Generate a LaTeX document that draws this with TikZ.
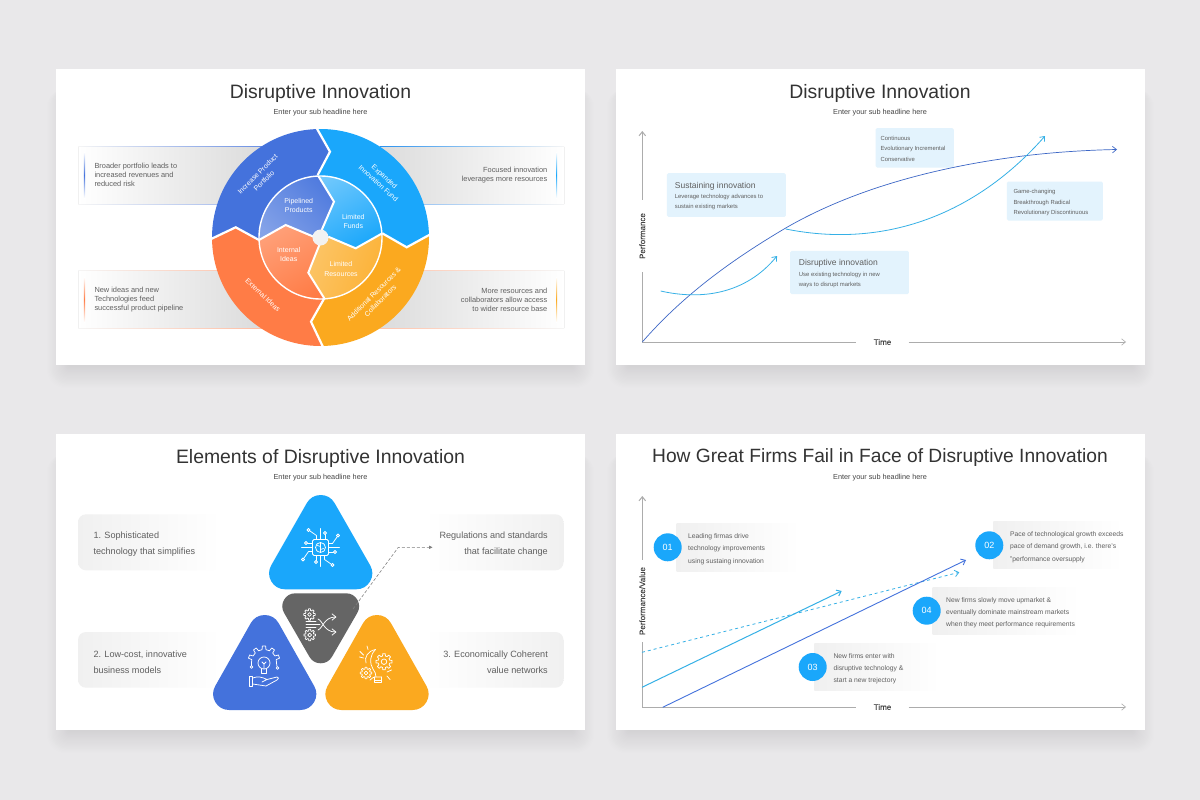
\documentclass[tikz,border=0pt]{standalone}
\usepackage{fontspec}
\setmainfont{Liberation Sans}
\usetikzlibrary{positioning,arrows.meta}

\definecolor{pagebg}{HTML}{E9E8EA}
\definecolor{shadeC}{HTML}{D3D2D4}
\definecolor{royalC}{HTML}{4472DC}
\definecolor{skyC}{HTML}{1AA7FB}
\definecolor{coralC}{HTML}{FF7C46}
\definecolor{amberC}{HTML}{FBA91F}
\definecolor{slateC}{HTML}{656565}
\definecolor{cardC}{HTML}{E3F3FD}
\definecolor{inkC}{HTML}{333333}
\definecolor{labelC}{HTML}{444444}
\definecolor{copyC}{HTML}{5F5F5F}
\definecolor{softC}{HTML}{F0F0F0}
\definecolor{bandC}{HTML}{D8D8D8}
\definecolor{curveC}{HTML}{35B0E6}

\newcommand{\panelbox}[2]{%
    \foreach \s in {20,...,1} {
        \pgfmathsetmacro{\m}{(20-\s)*5}
        \fill[shadeC!\m!pagebg, rounded corners=\s pt] (#1+14-\s*1.2, #2+20) rectangle (#1+515+\s*1.2, #2+296+\s*1.2);
    }
    \fill[white] (#1,#2) rectangle (#1+529,#2+296);
}

\begin{document}
\begin{tikzpicture}[
    x=1pt, y=-1pt,
    >={Straight Barb[length=4pt,width=6.5pt]},
    slidetitle/.style={font=\fontsize{19.4}{22}\selectfont, text=inkC, inner sep=0pt},
    subhead/.style={font=\fontsize{7.3}{8}\selectfont, text=labelC, inner sep=0pt},
    bandtext/.style={font=\fontsize{7.4}{9}\selectfont, text=copyC, inner sep=0pt},
    ringtext/.style={font=\fontsize{7}{9.2}\selectfont, text=white, align=center, inner sep=0pt},
    bluecard/.style={fill=cardC, rounded corners=1.5pt, inner sep=0pt},
    cardcopy/.style={
        align=left,
        inner sep=0pt,
        text=copyC,
        font=\fontsize{5.9}{10.4}\selectfont
    },
    axisline/.style={draw=gray!65, line width=1pt},
    axislabel/.style={font=\fontsize{8}{10}\selectfont\addfontfeature{FakeBold=0.12}, text=labelC, inner ysep=0pt, inner xsep=0pt},
    elemtext/.style={font=\fontsize{9.1}{16}\selectfont, text=copyC, inner sep=0pt},
    trimcard/.style={rounded corners=8pt, left color=softC, right color=white, draw=none},
    softtri/.style={fill=#1, draw=#1, line join=round},
    stepcopy/.style={font=\fontsize{6.75}{12.1}\selectfont, text=copyC, align=left, inner sep=0pt},
    numdot/.style={circle, fill=skyC, text=white, minimum size=28pt, inner sep=0pt, font=\fontsize{9}{10}\selectfont},
    icon/.style={draw=white, line width=0.75pt, line cap=round, line join=round},
    gearicon/.pic={
        \draw[icon] (0,0) circle (2.7);
        \draw[icon] (-14:5.8) \foreach \a in {0,45,...,315} {
            -- (\a-14:5.8) -- (\a-9:8) -- (\a+9:8) -- (\a+14:5.8)
        } -- cycle;
    }
]
    \useasboundingbox (0,0) rectangle (1200,800);
    \fill[pagebg] (0,0) rectangle (1200,800);

    % Slides
    \panelbox{56}{69}
    \panelbox{616}{69}
    \panelbox{56}{434}
    \panelbox{616}{434}

    % Titles of the slides
    \node[slidetitle] (title1) at (320.5,93) {Disruptive Innovation};
    \node[slidetitle] (title2) at (880,93) {Disruptive Innovation};
    \node[slidetitle] (title3) at (320.5,458) {Elements of Disruptive Innovation};
    \node[slidetitle, font=\fontsize{19.2}{22}\selectfont] (title4) at (880,458) {How Great Firms Fail in Face of Disruptive Innovation};
    \node[subhead] (sub1) at (320.5,112.5) {Enter your sub headline here};
    \node[subhead] (sub2) at (880,112.5) {Enter your sub headline here};
    \node[subhead] (sub3) at (320.5,477.5) {Enter your sub headline here};
    \node[subhead] (sub4) at (880,477.5) {Enter your sub headline here};

    % Bands behind the wheel
    \shade[left color=white, right color=bandC] (78,146.5) rectangle (280,204);
    \shade[left color=bandC, right color=white] (360,146.5) rectangle (564,204);
    \shade[left color=white, right color=bandC] (78,270.5) rectangle (280,328);
    \shade[left color=bandC, right color=white] (360,270.5) rectangle (564,328);
    \draw[gray!12, line width=0.6pt] (78,146.5) -- (78,204) (78,270.5) -- (78,328) (564,146.5) -- (564,204) (564,270.5) -- (564,328);
    \shade[left color=gray!8, right color=royalC!80] (78,146) rectangle (262,146.8);
    \shade[left color=gray!8, right color=royalC!55] (78,204) rectangle (262,204.8);
    \shade[left color=skyC!60!royalC, right color=gray!8] (380,146) rectangle (564,146.8);
    \shade[left color=skyC!45!royalC!60, right color=gray!8] (380,204) rectangle (564,204.8);
    \shade[left color=gray!8, right color=coralC!50] (78,270) rectangle (262,270.8);
    \shade[left color=gray!8, right color=coralC!50] (78,328) rectangle (262,328.8);
    \shade[left color=coralC!45, right color=gray!8] (380,270) rectangle (564,270.8);
    \shade[left color=coralC!45, right color=gray!8] (380,328) rectangle (564,328.8);

    % Thin bars at the ends of the bands
    \shade[top color=white, bottom color=white, middle color=royalC] (83.8,152) rectangle (85,198);
    \shade[top color=white, bottom color=white, middle color=skyC] (556,152) rectangle (557.2,198);
    \shade[top color=white, bottom color=white, middle color=coralC] (83.8,277) rectangle (85,322);
    \shade[top color=white, bottom color=white, middle color=amberC] (556,277) rectangle (557.2,322);

    \node[bandtext, align=left, anchor=west] (broader) at (94.3,175) {Broader portfolio leads to\\increased revenues and\\reduced risk};
    \node[bandtext, align=right, anchor=east] (focused) at (547.5,175) {Focused innovation\\leverages more resources};
    \node[bandtext, align=left, anchor=west] (newideas) at (94.3,299.5) {New ideas and new\\Technologies feed\\successful product pipeline};
    \node[bandtext, align=right, anchor=east] (moreres) at (547.5,299.5) {More resources and\\collaborators allow access\\to wider resource base};

    % Points of the wheel
    \coordinate (wc) at (320.5,237.5);
    \coordinate (tx) at (307,111);
    \coordinate (tm) at (330,151.7);
    \coordinate (ti) at (317.7,175);
    \coordinate (rx) at (451,223);
    \coordinate (rm) at (406.7,247.3);
    \coordinate (ri) at (382.3,233.3);
    \coordinate (bx) at (333,368);
    \coordinate (bm) at (311,321.7);
    \coordinate (bi) at (324.3,298.3);
    \coordinate (lx) at (190,249);
    \coordinate (lm) at (235.7,227.3);
    \coordinate (li) at (259,240);

    % Outer ring
    \begin{scope}
        \clip (wc) circle (108.5);
        \fill[royalC] (wc) -- (li) -- (lm) -- (lx) -- (190,100) -- (tx) -- (tm) -- (ti) -- cycle;
        \fill[skyC] (wc) -- (ti) -- (tm) -- (tx) -- (460,100) -- (rx) -- (rm) -- (ri) -- cycle;
        \fill[amberC] (wc) -- (ri) -- (rm) -- (rx) -- (460,380) -- (bx) -- (bm) -- (bi) -- cycle;
        \fill[coralC] (wc) -- (bi) -- (bm) -- (bx) -- (190,380) -- (lx) -- (lm) -- (li) -- cycle;
        \draw[white, line width=2.2pt] (tx) -- (tm) -- (ti);
        \draw[white, line width=2.2pt] (rx) -- (rm) -- (ri);
        \draw[white, line width=2.2pt] (bx) -- (bm) -- (bi);
        \draw[white, line width=2.2pt] (lx) -- (lm) -- (li);
    \end{scope}

    % Inner ring
    \coordinate (tn) at (334,201.7);
    \coordinate (h1) at (321.7,230);
    \coordinate (rn) at (355.7,248.3);
    \coordinate (h2) at (328.3,236.7);
    \coordinate (bn) at (308.3,272.7);
    \coordinate (h3) at (320,243.3);
    \coordinate (ln) at (285.7,225);
    \coordinate (h4) at (315,237.3);
    \begin{scope}
        \clip (wc) circle (61.5);
        \shade[top color=royalC!95, bottom color=royalC!65, shading angle=-45]
            (wc) -- (h4) -- (ln) -- (li) -- (250,245) -- (250,165) -- (ti) -- (tn) -- (h1) -- cycle;
        \shade[top color=skyC!62, bottom color=skyC, shading angle=30]
            (wc) -- (h1) -- (tn) -- (ti) -- (317,165) -- (390,165) -- (390,229) -- (ri) -- (rn) -- (h2) -- cycle;
        \shade[top color=amberC!68, bottom color=amberC!92, shading angle=70]
            (wc) -- (h2) -- (rn) -- (ri) -- (390,229) -- (390,305) -- (326,305) -- (bi) -- (bn) -- (h3) -- cycle;
        \shade[top color=coralC!72, bottom color=coralC, shading angle=30]
            (wc) -- (h3) -- (bn) -- (bi) -- (326,305) -- (250,305) -- (250,245) -- (li) -- (ln) -- (h4) -- cycle;
        \draw[white, line width=2pt] (ti) -- (tn) -- (h1);
        \draw[white, line width=2pt] (ri) -- (rn) -- (h2);
        \draw[white, line width=2pt] (bi) -- (bn) -- (h3);
        \draw[white, line width=2pt] (li) -- (ln) -- (h4);
    \end{scope}
    \draw[white, line width=1.4pt] (wc) circle (61.5);
    \fill[gray!10] (wc) circle (8);

    % Wheel labels
    \node[ringtext, rotate=45] (increase) at (260.7,177.5) {Increase Product\\Portfolio};
    \node[ringtext, rotate=-42] (expanded) at (381.5,180) {Expanded\\Innovation Fund};
    \node[ringtext, rotate=45] (additional) at (377,297.5) {Additional Resources \&\\Collaborators};
    \node[ringtext, rotate=-43] (external) at (263,295) {External Ideas};
    \node[ringtext] (pipelined) at (298.7,205.7) {Pipelined\\Products};
    \node[ringtext] (funds) at (353.3,221.7) {Limited\\Funds};
    \node[ringtext] (resources) at (341,269) {Limited\\Resources};
    \node[ringtext] (internal) at (288.7,254.3) {Internal\\Ideas};

    % Chart of the second slide
    \coordinate (orig2) at (642.3,342);
    \coordinate (top2) at (642.3,131);
    \coordinate (end2) at (1126,342);
    \node[axislabel, rotate=90, minimum width=72pt] (perf2) at (642.3,236) {Performance};
    \node[axislabel, minimum width=52pt] (time2) at (882.5,342) {Time};
    \draw[axisline] (orig2) -- (perf2);
    \draw[axisline, ->] (perf2) -- (top2);
    \draw[axisline, line width=0.6pt] (orig2) -- (time2);
    \draw[axisline, line width=0.6pt, ->] (time2) -- (end2);

    % Cards of the second slide
    \node[bluecard, minimum width=119pt, minimum height=43.7pt, anchor=north west] (sustaining) at (666.7,173) {};
    \node[bluecard, minimum width=118.7pt, minimum height=43.3pt, anchor=north west] (disruptive) at (790,250.7) {};
    \node[bluecard, minimum width=78.4pt, minimum height=39.3pt, anchor=north west] (continuous) at (875.3,128) {};
    \node[bluecard, minimum width=96pt, minimum height=39pt, anchor=north west] (gamechanging) at (1006.7,181.3) {};
    \node[cardcopy, right=8pt of sustaining.west, yshift=-1pt]
        {{\fontsize{8.5}{11}\selectfont Sustaining innovation}\\Leverage technology advances to\\sustain existing markets};
    \node[cardcopy, right=8.7pt of disruptive.west, yshift=-1pt]
        {{\fontsize{8.5}{11}\selectfont Disruptive innovation}\\Use existing technology in new\\ways to disrupt markets};
    \node[cardcopy, right=5pt of continuous.west, yshift=-1pt]
        {Continuous\\Evolutionary Incremental\\Conservative};
    \node[cardcopy, right=6.6pt of gamechanging.west, yshift=-1.5pt]
        {Game-changing\\Breakthrough Radical\\Revolutionary Discontinuous};

    \coordinate (sust1) at (785.7,228);
    \coordinate (sust2) at (1023,156);
    \coordinate (sust3) at (1117,149.5);
    \coordinate (disr1) at (660.7,291);
    \coordinate (disr2) at (777,256);
    \coordinate (disr3) at (785.7,229);
    \coordinate (disr4) at (1045,136);
    \draw[royalC!90!black, line width=0.7pt] (orig2) .. controls (685,293) and (735,258) .. (sust1);
    \draw[royalC!90!black, line width=0.7pt] (sust1) .. controls (860,185) and (950,165) .. (sust2);
    \draw[royalC!90!black, line width=0.7pt, ->] (sust2) .. controls (1055,152) and (1090,150) .. (sust3);
    \draw[curveC, line width=0.8pt, ->] (disr1) .. controls (700,300) and (745,295) .. (disr2);
    \draw[curveC, line width=0.8pt, ->] (disr3) .. controls (890,250) and (980,210) .. (disr4);

    % Third slide: side cards
    \shade[trimcard] (78,514.3) rectangle (220,570.3);
    \shade[trimcard] (78,632) rectangle (220,687.7);
    \shade[trimcard, left color=white, right color=softC] (425,514.3) rectangle (563.5,570.3);
    \shade[trimcard, left color=white, right color=softC] (425,632) rectangle (563.5,687.7);
    \node[elemtext, align=left, anchor=west] (sophisticated) at (93.3,544.3) {1. Sophisticated\\technology that simplifies};
    \node[elemtext, align=left, anchor=west] (lowcost) at (93.3,662) {2. Low-cost, innovative\\business models};
    \node[elemtext, align=right, anchor=east] (regulations) at (548,544.3) {Regulations and standards\\that facilitate change};
    \node[elemtext, align=right, anchor=east] (coherent) at (548,662) {3. Economically Coherent\\value networks};

    % Rounded triangles
    \path[softtri=skyC, line width=32pt] (320.7,511) -- (356.3,573.3) -- (285.1,573.3) -- cycle;
    \path[softtri=royalC, line width=32pt] (264.7,631) -- (300.3,694) -- (229.1,694) -- cycle;
    \path[softtri=amberC, line width=32pt] (377,631) -- (412.6,694) -- (341.4,694) -- cycle;
    \path[softtri=slateC, line width=26pt] (295.3,606.3) -- (346.1,606.3) -- (320.7,650.3) -- cycle;

    % Link from the dark triangle to the card
    \coordinate (linkA) at (353,609);
    \coordinate (linkB) at (398.3,547.3);
    \coordinate (linkC) at (432.7,547.3);
    \draw[gray, line width=0.6pt, densely dashed, -{Latex[length=3.5pt,width=3.5pt]}] (linkA) -- (linkB) -- (linkC);

    % Icon: chip
    \begin{scope}[shift={(320.5,547.5)}]
        \draw[icon, rounded corners=1.5pt] (-8,-8) rectangle (8,8);
        \draw[icon] (0,0) circle (5);
        \draw[icon] (0,-5) -- (0,5) (-3,-2) -- (0,-1) (3,1) -- (0,2);
        \foreach \a in {0,90,180,270} {
            \begin{scope}[rotate=\a]
                \draw[icon] (0,-8) -- (0,-19);
                \draw[icon] (-4,-8) -- (-4,-12) -- (-10.5,-16.5);
                \draw[icon] (-12,-17.5) circle (1.5);
                \draw[icon] (4.5,-8) -- (4.5,-13);
                \draw[icon] (4.5,-14.5) circle (1.5);
            \end{scope}
        }
    \end{scope}

    % Icon: gears and arrows
    \pic[scale=0.72] at (309.5,614.5) {gearicon};
    \pic[scale=0.72] at (309.7,635) {gearicon};
    \draw[icon] (306,621.5) -- (316,621.5) (306,624.5) -- (320,624.5) (306,627.5) -- (316,627.5);
    \draw[icon, ->] (318,630) .. controls (323,628) and (324,617) .. (336.5,617);
    \draw[icon, ->] (318,619) .. controls (323,621) and (324,632) .. (336.5,632);

    % Icon: bulb over a hand
    \begin{scope}[shift={(264,662)}]
        \draw[icon] (176:12.5) \foreach \a in {200,235,...,340} {
            -- (\a-9:12.5) -- (\a-6:16) -- (\a+6:16) -- (\a+9:12.5)
        } -- (364:12.5);
        \draw[icon] (0,1) circle (6);
        \draw[icon] (-2.5,7) -- (-2.5,11) -- (2.5,11) -- (2.5,7);
        \draw[icon] (-2,0) -- (0,2) -- (2,0) (0,2) -- (0,7);
        \draw[icon] (-12.5,1) -- (-12.5,3.5) (-12.5,5) circle (1.4);
        \draw[icon] (12.5,1) -- (13,4.5) (13.5,6) circle (1.4);
        \draw[icon] (-14.7,14) rectangle (-11.3,24);
        \draw[icon] (-11.3,16) .. controls (-6,14) and (-2,15) .. (3,17.5) -- (-2,20);
        \draw[icon] (3,17.5) -- (13,15) .. controls (15,15) and (15,17) .. (13,18) -- (2,24) -- (-11.3,22);
    \end{scope}

    % Icon: bulb with gears
    \pic[scale=1.02] at (384,661.7) {gearicon};
    \pic[scale=0.72] at (366,673) {gearicon};
    \draw[icon] (375.5,649.5) .. controls (368,651) and (364,657) .. (366,663);
    \draw[icon] (375.5,649.5) .. controls (370,655) and (369,663) .. (373,669) .. controls (375,672) and (376,674) .. (376,677);
    \draw[icon] (370,680) .. controls (372,678) and (374,677) .. (374.5,677) -- (381.5,677);
    \draw[icon] (374.5,677) -- (374.5,682.5) -- (381,682.5) -- (381,677) (375,680) -- (381,680);
    \draw[icon] (360,651.5) -- (363.5,655) (367,646) -- (368,649.5) (359.5,657) -- (363.5,658);
    \draw[icon] (387,672) -- (391.5,670) (387,676) -- (390,679.5);

    % Chart of the fourth slide
    \coordinate (orig4) at (642.3,707);
    \coordinate (top4) at (642.3,496);
    \coordinate (end4) at (1126,707);
    \node[axislabel, rotate=90, minimum width=82pt] (perf4) at (642.3,601) {Performance/Value};
    \node[axislabel, minimum width=52pt] (time4) at (882.5,707) {Time};
    \draw[axisline] (orig4) -- (perf4);
    \draw[axisline, ->] (perf4) -- (top4);
    \draw[axisline, line width=0.6pt] (orig4) -- (time4);
    \draw[axisline, line width=0.6pt, ->] (time4) -- (end4);

    \coordinate (dashA) at (642,652.3);
    \coordinate (dashB) at (959.3,572.3);
    \coordinate (skyA) at (642,687.3);
    \coordinate (skyB) at (841.7,591);
    \coordinate (royalA) at (662.7,707.3);
    \coordinate (royalB) at (966,560);
    \draw[curveC, line width=0.8pt, dashed, ->] (dashA) -- (dashB);
    \draw[curveC, line width=1pt, ->] (skyA) -- (skyB);
    \draw[royalC, line width=0.9pt, ->] (royalA) -- (royalB);

    % Steps
    \shade[left color=softC, right color=white] (676.7,523.3) rectangle (800,571);
    \shade[left color=softC, right color=white] (993.3,521.7) rectangle (1123,568.3);
    \shade[left color=softC, right color=white] (814.3,643.3) rectangle (940,690);
    \shade[left color=softC, right color=white] (932.7,587.3) rectangle (1080,634);
    \node[numdot] (step1) at (667.7,547.3) {01};
    \node[numdot] (step2) at (989.3,545.3) {02};
    \node[numdot] (step3) at (812.7,667) {03};
    \node[numdot] (step4) at (926.7,610.7) {04};
    \node[stepcopy, anchor=west] (copy1) at (688,549.2) {Leading firmas drive\\technology improvements\\using sustaing innovation};
    \node[stepcopy, anchor=west] (copy2) at (1010,547.2) {Pace of technological growth exceeds\\pace of demand growth, i.e. there's\\"performance oversupply};
    \node[stepcopy, anchor=west] (copy3) at (833.3,668.8) {New firms enter with\\disruptive technology \&\\start a new trejectory};
    \node[stepcopy, anchor=west] (copy4) at (946,612.8) {New firms slowly move upmarket \&\\eventually dominate mainstream markets\\when they meet performance requirements};
\end{tikzpicture}
\end{document}
